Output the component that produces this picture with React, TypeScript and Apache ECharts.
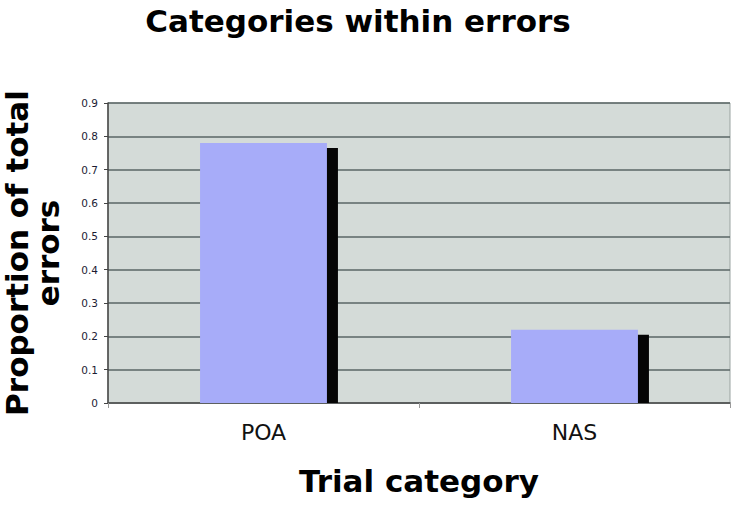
import React, { useEffect, useRef } from "react";
import * as echarts from "echarts";

const categories = ["POA", "NAS"];
const proportions = [0.78, 0.22];
const yTicks = [0, 0.1, 0.2, 0.3, 0.4, 0.5, 0.6, 0.7, 0.8, 0.9];

const BAR_FRACTION = 0.408;
const SHADOW_DX = 11;
const SHADOW_DY = 5;

export default function App() {
  const ref = useRef<HTMLDivElement>(null);
  useEffect(() => {
    if (!ref.current) return;
    const chart = echarts.init(ref.current, undefined, { renderer: "svg" });
    chart.setOption({
      animation: false,
      backgroundColor: "#ffffff",
      title: {
        text: "Categories within errors",
        left: 353,
        top: 0,
        textAlign: "center",
        textStyle: {
          fontFamily: "DejaVu Sans",
          fontWeight: "bold",
          fontSize: 31,
          color: "#000",
        },
      },
      grid: {
        left: 108,
        right: 3,
        top: 103,
        bottom: 102,
        containLabel: false,
        outerBoundsMode: "none",
        show: true,
        backgroundColor: "#d4dbd8",
        borderColor: "#9aa3a1",
        borderWidth: 1,
      },
      xAxis: {
        type: "category",
        data: categories,
        name: "Trial category",
        nameLocation: "middle",
        nameGap: 62,
        nameTextStyle: {
          fontFamily: "DejaVu Sans",
          fontWeight: "bold",
          fontSize: 31,
          color: "#000",
        },
        axisLine: { show: true, lineStyle: { color: "#555", width: 1.5 } },
        axisTick: { show: true, length: 5, lineStyle: { color: "#999" } },
        axisLabel: {
          fontFamily: "DejaVu Sans",
          fontSize: 22,
          color: "#111",
          margin: 18,
        },
      },
      yAxis: {
        type: "value",
        min: 0,
        max: 0.9,
        interval: 0.1,
        name: "Proportion of total\nerrors",
        nameLocation: "middle",
        nameGap: 44,
        nameRotate: 90,
        nameTextStyle: {
          fontFamily: "DejaVu Sans",
          fontWeight: "bold",
          fontSize: 31,
          lineHeight: 31.5,
          color: "#000",
          align: "center",
        },
        axisLine: { show: true, lineStyle: { color: "#444", width: 1.5 } },
        axisTick: { show: true, length: 4, lineStyle: { color: "#444" } },
        axisLabel: {
          fontFamily: "DejaVu Sans",
          fontSize: 10.5,
          color: "#1c1c34",
          margin: 10,
          formatter: (v: number) => {
            const t = yTicks.find((x) => Math.abs(x - v) < 1e-9);
            return t === undefined ? "" : String(Math.round(t * 10) / 10);
          },
        },
        splitLine: { show: true, lineStyle: { color: "#5a6666", width: 1.6 } },
      },
      series: [
        {
          type: "custom",
          z: 1,
          data: categories.map((c, i) => [i, proportions[i]]),
          encode: { x: 0, y: 1 },
          renderItem: (params: any, api: any) => {
            const idx = api.value(0);
            const v = api.value(1);
            const top = api.coord([idx, v]);
            const base = api.coord([idx, 0]);
            const band = api.size([1, 0])[0];
            const w = band * BAR_FRACTION;
            return {
              type: "rect",
              shape: {
                x: top[0] - w / 2 + SHADOW_DX,
                y: top[1] + SHADOW_DY,
                width: w,
                height: base[1] - top[1] - SHADOW_DY,
              },
              style: { fill: "#050505" },
            };
          },
        },
        {
          type: "bar",
          z: 3,
          data: proportions,
          barWidth: BAR_FRACTION * 100 + "%",
          itemStyle: { color: "#a7acf9" },
        },
      ],
    });
    return () => chart.dispose();
  }, []);
  return (
    <div
      ref={ref}
      style={{ position: "absolute", left: 0, top: 0, width: 733, height: 505 }}
    />
  );
}
